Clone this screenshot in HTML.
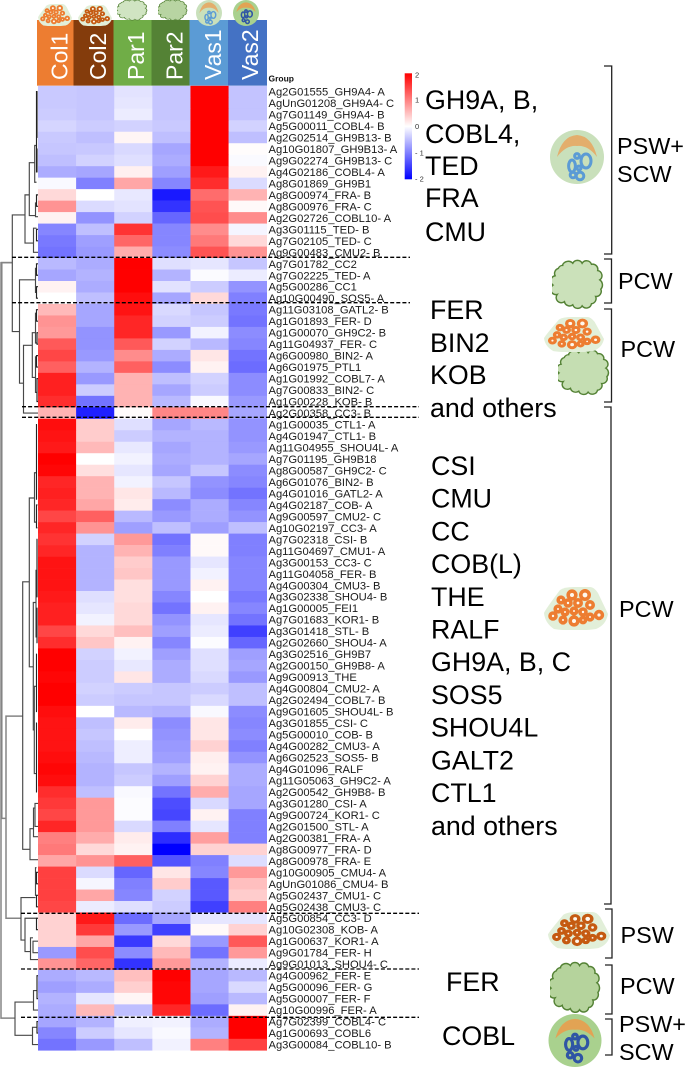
<!DOCTYPE html>
<html lang="en">
<head>
<meta charset="utf-8">
<title>Cell wall gene expression heatmap</title>
<style>
html,body{margin:0;padding:0;background:#fff;width:685px;height:1067px;overflow:hidden}
svg{display:block}
text{font-family:"Liberation Sans",Arial,sans-serif}
.big{font-size:26.8px;fill:#000}
.wall{font-size:23.4px;fill:#000}
.hdr{font-size:23px;fill:#fff}
</style>
</head>
<body>
<svg id="chart" xmlns="http://www.w3.org/2000/svg" width="685" height="1067" viewBox="0 0 685 1067">
<defs>
<linearGradient id="cbGrad" x1="0" y1="0" x2="0" y2="1">
<stop offset="0" stop-color="#ff0000"/><stop offset="0.5" stop-color="#ffffff"/><stop offset="1" stop-color="#0000ff"/>
</linearGradient>
<symbol id="dome" viewBox="0 0 64 43" preserveAspectRatio="none">
<path d="M0 26 Q1 23 16 3 Q20 0 30 0 L46 0 Q50 0 54 6 L64 27 Q62 38 52 42 Q30 45 10 42 Q1 36 0 26Z" fill="#e2efd9"/>
<g fill="#fff8ee" stroke="currentColor" stroke-width="3.6">
<circle cx="28" cy="8" r="3.8"/><circle cx="41" cy="8" r="4.2"/><circle cx="17" cy="13" r="2.8"/>
<circle cx="24" cy="16" r="3"/><circle cx="34" cy="16" r="3.2"/><circle cx="46" cy="18" r="3.2"/>
<circle cx="14" cy="22" r="2.8"/><circle cx="21" cy="25" r="2.8"/><circle cx="30" cy="24" r="2.8"/>
<circle cx="39" cy="25" r="3"/><circle cx="9" cy="29" r="3"/><circle cx="55" cy="28" r="3.4"/>
<circle cx="19" cy="33" r="2.8"/><circle cx="30" cy="34" r="3.8"/><circle cx="46" cy="30" r="2.8"/>
<circle cx="39" cy="33" r="2.6"/>
</g>
</symbol>
<symbol id="cloud" viewBox="0 -3 52 52" preserveAspectRatio="none">
<path d="M10 6 a6 6 0 0 1 10 -2 a5 5 0 0 1 9 0 a5 5 0 0 1 9 1 a5 5 0 0 1 6 6 a5 5 0 0 1 2 9 a6 6 0 0 1 1 9 a5 5 0 0 1 -5 7 a5 5 0 0 1 -4 7 a5 5 0 0 1 -9 2 a5 5 0 0 1 -9 -1 a5 5 0 0 1 -8 -3 a5 5 0 0 1 -7 -7 a5 5 0 0 1 -4 -9 a5 5 0 0 1 2 -9 a5 5 0 0 1 3 -7 a5 5 0 0 1 5 -3 z" fill="currentColor" stroke="#548235" stroke-width="1.4"/>
</symbol>
<symbol id="vasLight" viewBox="0 0 54 54">
<circle cx="27" cy="27" r="27" fill="#c9e0bb"/>
<path d="M7 27 Q12 6 27 5 Q42 6 47 27 Q38 15 27 16 Q16 15 7 27Z" fill="#e3ae6c"/>
<g fill="none" stroke="#5b9bd5" stroke-width="3">
<ellipse cx="22" cy="36" rx="3.4" ry="6"/><ellipse cx="36" cy="31" rx="5" ry="7"/><circle cx="27" cy="26" r="2.4"/>
<circle cx="23" cy="45" r="2.8"/><circle cx="30" cy="46" r="3.8"/><circle cx="29" cy="38" r="2"/>
</g>
</symbol>
<symbol id="vasDark" viewBox="0 0 54 54">
<circle cx="27" cy="27" r="27" fill="#a9d18e"/>
<path d="M7 25 Q12 6 27 5 Q42 6 47 25 Q38 15 27 16 Q16 15 7 25Z" fill="#e2a354"/>
<g fill="none" stroke="#2f55a5" stroke-width="3.2">
<ellipse cx="21" cy="31" rx="3.6" ry="6"/><ellipse cx="35" cy="29" rx="5" ry="6.5"/><circle cx="27" cy="23" r="2.4"/>
<circle cx="22" cy="42" r="2.8"/><circle cx="30" cy="45" r="3.8"/><circle cx="28" cy="35" r="2"/>
</g>
</symbol>
</defs>

<g>
<rect x="37" y="20" width="36.5" height="65.7" fill="#ed7d31"/>
<rect x="73.5" y="20" width="40" height="65.7" fill="#843c0c"/>
<rect x="113.5" y="20" width="38" height="65.7" fill="#70ad47"/>
<rect x="151.5" y="20" width="38" height="65.7" fill="#548235"/>
<rect x="189.5" y="20" width="38.5" height="65.7" fill="#5b9bd5"/>
<rect x="228" y="20" width="39" height="65.7" fill="#4472c4"/>
<text class="hdr" transform="translate(67.5,80) rotate(-90)">Col1</text>
<text class="hdr" transform="translate(106,80) rotate(-90)">Col2</text>
<text class="hdr" transform="translate(144,80) rotate(-90)">Par1</text>
<text class="hdr" transform="translate(182.5,80) rotate(-90)">Par2</text>
<text class="hdr" transform="translate(221,80) rotate(-90)">Vas1</text>
<text class="hdr" transform="translate(258,80) rotate(-90)">Vas2</text>
</g>

<g>
<use href="#dome" x="38" y="4" width="34" height="22" style="color:#ed7d31"/>
<use href="#dome" x="78" y="5" width="34" height="21" style="color:#c55a11"/>
<use href="#cloud" x="117" y="-2" width="32" height="23" style="color:#d0e4c2"/>
<use href="#cloud" x="158" y="-2" width="31" height="23" style="color:#b8d4a2"/>
<use href="#vasLight" x="196" y="0" width="26" height="26"/>
<use href="#vasDark" x="233" y="0" width="26" height="26"/>
</g>

<text x="268.5" y="81.7" font-size="8.5" font-weight="700" fill="#111">Group</text>

<g id="dendrogram"></g>
<g id="cells"></g>
<g id="genes"></g>

<g id="colorbar">
<rect x="404.7" y="73.3" width="7.3" height="106" fill="url(#cbGrad)"/>
</g>

<g>
<text class="big" x="425" y="109">GH9A, B,</text>
<text class="big" x="425" y="143">COBL4,</text>
<text class="big" x="425" y="175">TED</text>
<text class="big" x="425" y="207">FRA</text>
<text class="big" x="425" y="241">CMU</text>
<text class="big" x="430" y="319">FER</text>
<text class="big" x="430" y="352">BIN2</text>
<text class="big" x="430" y="384">KOB</text>
<text class="big" x="430" y="417">and others</text>
<text class="big" x="431" y="475">CSI</text>
<text class="big" x="431" y="507.7">CMU</text>
<text class="big" x="431" y="540.4">CC</text>
<text class="big" x="431" y="573.1">COB(L)</text>
<text class="big" x="431" y="605.8">THE</text>
<text class="big" x="431" y="638.5">RALF</text>
<text class="big" x="431" y="671.2">GH9A, B, C</text>
<text class="big" x="431" y="703.9">SOS5</text>
<text class="big" x="431" y="736.6">SHOU4L</text>
<text class="big" x="431" y="769.3">GALT2</text>
<text class="big" x="431" y="802">CTL1</text>
<text class="big" x="431" y="835">and others</text>
<text class="big" x="446" y="991">FER</text>
<text class="big" x="442" y="1045">COBL</text>
</g>

<g>
<use href="#vasLight" x="550" y="130" width="54" height="54"/>
<use href="#cloud" x="552" y="256" width="54" height="54" style="color:#cbe1ba"/>
<use href="#cloud" x="558" y="346" width="54" height="50" style="color:#c5deb2"/>
<use href="#dome" x="544" y="317" width="60" height="35" style="color:#ed7d31"/>
<use href="#dome" x="544" y="587" width="64" height="43" style="color:#ed7d31"/>
<use href="#dome" x="548" y="912" width="62" height="37" style="color:#c55a11"/>
<use href="#cloud" x="550" y="958" width="53" height="56" style="color:#b5d39c"/>
<use href="#vasDark" x="548" y="1014" width="54" height="53"/>
</g>

<g fill="none" stroke="#222" stroke-width="1.3">
<path d="M604 66H611.7V254H604"/>
<path d="M604 259H611.5V303H604"/>
<path d="M604 309H611.5V402H604"/>
<path d="M604 407H611V904H604"/>
<path d="M605 909H612V958H605"/>
<path d="M605 965H612V1014H605"/>
<path d="M605 1019H612V1055H605"/>
</g>

<g>
<text class="wall" x="617" y="154">PSW+</text>
<text class="wall" x="617" y="182">SCW</text>
<text class="wall" x="618" y="289">PCW</text>
<text class="wall" x="620.5" y="357">PCW</text>
<text class="wall" x="619" y="617">PCW</text>
<text class="wall" x="620.5" y="943">PSW</text>
<text class="wall" x="620" y="994">PCW</text>
<text class="wall" x="619" y="1032">PSW+</text>
<text class="wall" x="619" y="1060">SCW</text>
</g>

<g stroke="#000" stroke-width="1.3" stroke-dasharray="4 2.1">
<line x1="12" x2="410" y1="257.3" y2="257.3"/>
<line x1="12" x2="410" y1="302.7" y2="302.7"/>
<line x1="22" x2="419" y1="406.7" y2="406.7"/>
<line x1="22" x2="419" y1="417.3" y2="417.3"/>
<line x1="21" x2="419" y1="913.3" y2="913.3"/>
<line x1="21" x2="419" y1="969" y2="969"/>
<line x1="21" x2="419" y1="1017.3" y2="1017.3"/>
</g>
</svg>

<script>
const samples = ["Col1","Col2","Par1","Par2","Vas1","Vas2"];
const geneLabels = [
"Ag2G01555_GH9A4- A","AgUnG01208_GH9A4- C","Ag7G01149_GH9A4- B","Ag5G00011_COBL4- B","Ag2G02514_GH9B13- B","Ag10G01807_GH9B13- A","Ag9G02274_GH9B13- C","Ag4G02186_COBL4- A","Ag8G01869_GH9B1","Ag8G00974_FRA- B","Ag8G00976_FRA- C","Ag2G02726_COBL10- A","Ag3G01115_TED- B","Ag7G02105_TED- C","Ag9G00483_CMU2- B",
"Ag7G01782_CC2","Ag7G02225_TED- A","Ag5G00286_CC1","Ag10G00490_SOS5- A",
"Ag11G03108_GATL2- B","Ag1G01893_FER- D","Ag1G00070_GH9C2- B","Ag11G04937_FER- C","Ag6G00980_BIN2- A","Ag6G01975_PTL1","Ag1G01992_COBL7- A","Ag7G00833_BIN2- C","Ag1G00228_KOB- B",
"Ag2G00358_CC3- B",
"Ag1G00035_CTL1- A","Ag4G01947_CTL1- B","Ag11G04955_SHOU4L- A","Ag7G01195_GH9B18","Ag8G00587_GH9C2- C","Ag6G01076_BIN2- B","Ag4G01016_GATL2- A","Ag4G02187_COB- A","Ag9G00597_CMU2- C","Ag10G02197_CC3- A","Ag7G02318_CSI- B","Ag11G04697_CMU1- A","Ag3G00153_CC3- C","Ag11G04058_FER- B","Ag4G00304_CMU3- B","Ag3G02338_SHOU4- B","Ag1G00005_FEI1","Ag7G01683_KOR1- B","Ag3G01418_STL- B","Ag2G02660_SHOU4- A","Ag3G02516_GH9B7","Ag2G00150_GH9B8- A","Ag9G00913_THE","Ag4G00804_CMU2- A","Ag2G02494_COBL7- B","Ag9G01605_SHOU4L- B","Ag3G01855_CSI- C","Ag5G00010_COB- B","Ag4G00282_CMU3- A","Ag6G02523_SOS5- B","Ag4G01096_RALF","Ag11G05063_GH9C2- A","Ag2G00542_GH9B8- B","Ag3G01280_CSI- A","Ag9G00724_KOR1- C","Ag2G01500_STL- A","Ag2G00381_FRA- A","Ag8G00977_FRA- D","Ag8G00978_FRA- E","Ag10G00905_CMU4- A","AgUnG01086_CMU4- B","Ag5G02437_CMU1- C","Ag5G02438_CMU3- C",
"Ag5G00854_CC3- D","Ag10G02308_KOB- A","Ag1G00637_KOR1- A","Ag9G01784_FER- H","Ag9G01013_SHOU4- C",
"Ag4G00962_FER- E","Ag5G00096_FER- G","Ag5G00007_FER- F","Ag10G00996_FER- A",
"Ag7G02399_COBL4- C","Ag1G00693_COBL6","Ag3G00084_COBL10- B"];
const zValues = [
[-.42,-.45,-.22,-.45,2,-.47],[-.42,-.45,-.2,-.45,2,-.47],[-.4,-.45,-.15,-.45,2,-.47],[-.33,-.4,-.35,-.42,2,-.35],[-.42,-.5,.08,-.5,2,-.5],
[-.45,-.43,-.3,-.7,2,.02],[-.5,-.35,-.25,-.65,2,-.04],[-.65,-.7,.12,-.75,1.8,.1],[-.05,-1,.7,-.95,1.65,-.28],[.3,0,-.18,-1.8,1.15,.6],
[.85,-.28,-.22,-1.6,1.35,.05],[.1,-.85,-.35,-1.2,1.4,.9],[-.95,-.5,1.6,-.95,.9,-.08],[-1.05,-.75,1.2,-.95,1.05,.3],[-1.1,-.8,.65,-.9,1.35,.85],
[-.55,-.65,2,-.25,-.2,-.45],[-.7,-.6,2,-.6,-.03,-.15],[.1,-.65,2,-.23,-.4,-.85],[0,-.5,1.9,-.7,.3,-1],
[.55,-.7,1.85,-.3,-.45,-1.05],[.85,-.7,1.7,-.35,-.4,-1.1],[.8,-.85,1.7,-.8,-.1,-.9],[1.3,-.85,1.3,-.35,-.55,-.95],[1.45,-.8,.9,-.65,.2,-1.1],[1.25,-.6,1.25,-.9,.1,-1.15],[1.75,-.8,.6,-.5,-.35,-.9],[1.75,-.4,.6,-.7,-.4,-.9],[1.65,-1.1,.6,-.55,-.05,-.8],
[.6,-1.75,.03,.95,.95,-.7],
[1.9,.4,-.25,-.7,-.55,-.85],[1.85,.4,-.4,-.6,-.6,-.85],[1.8,.55,-.18,-.7,-.6,-.8],[2,0,-.1,-.65,-.6,-.7],[1.95,.25,-.2,-.7,-.45,-.9],[1.7,.6,-.1,-.45,-.85,-.95],[1.75,.6,.2,-.55,-.9,-1.1],[1.7,.7,.15,-.9,-.65,-.95],[1.45,1.25,-.55,-.8,-.65,-.85],[1.7,.85,-.75,-.5,-.75,-.5],
[1.6,-.35,.8,-1.1,.05,-1],[1.7,-.6,.6,-1,.05,-1],[1.85,-.6,.4,-.8,-.2,-.95],[1.85,-.6,.45,-.8,-.1,-.95],[1.85,-.6,.25,-.8,.1,-.95],[1.8,-.25,.25,-.95,0,-1.05],[1.75,-.2,.3,-1.1,.1,-.95],[1.75,-.1,.3,-.85,-.2,-1.1],[1.45,.3,.5,-.75,-.15,-1.5],[1.65,.45,.1,-.95,-.02,-1.2],
[2,-.35,-.1,-.75,-.25,-.75],[2,-.4,-.18,-.65,-.25,-.7],[1.95,-.4,.2,-.65,-.3,-.8],[2,-.35,-.4,-.45,-.4,-.5],[2,-.4,-.45,-.45,-.3,-.5],[1.9,0,-.55,-.6,-.05,-.9],[1.85,-.5,.15,-.9,.2,-.95],[1.85,-.45,0,-.85,.2,-.9],[1.85,-.5,-.13,-.8,.35,-1],[1.9,-.55,-.13,-.75,.13,-.85],[1.95,-.6,-.45,-.6,.1,-.65],[1.9,-.6,-.4,-.75,.35,-.65],[1.65,-.5,-.05,-1.1,.65,-.7],
[1.55,.8,-.02,-1.4,-.3,-.7],[1.45,.8,-.02,-1.45,.1,-1],[1.7,.8,-.3,-1,-.2,-1],[1,.65,.15,-1.65,.75,-1],[1.05,.3,.1,-2,.35,.35],[.7,.85,1.25,-1.35,-1,-.27],
[1.5,-.28,-1.2,.2,-.95,.8],[1.5,-.07,-1,.4,-1.3,.5],[1.5,.7,-.95,-.35,-1.3,.4],[1.45,-.15,-.25,-.4,-1.5,1],
[.35,1.8,-1.15,-.7,-.2,-.2],[.35,1.55,-.8,-1.5,.05,.35],[.35,.7,-1.55,.3,-.8,1.3],[-.8,1.4,-.9,.55,-1.1,.8],[.85,1.2,-1.6,.8,-.6,-.15],
[-.65,-.55,.5,2,-.7,-.55],[-.75,-.65,.38,1.95,-.7,-.3],[-.6,-.2,.08,1.95,-.75,-.55],[-.65,.55,-.5,1.7,-1.15,.1],
[-.7,-.6,-.12,-.1,-.65,2],[-.95,-.4,-.2,-.05,-.6,2],[-1.1,-.8,-.5,-.1,1,1.5]];
const colorbarTicks = [2,1,0,-1,-2];
/* dendrogram merges: [merge height, top branch row, bottom branch row, top child height, bottom child height] */
const dendroMerges = [
[37,15.4,81.2,25.7,23],[36.2,15.4,63.8,25.7,32],[25.7,11.25,21.4,13,18.5],[13,9.5,13.7,8.7,4.5],[8.7,6.7,11.3,3.3,2.5],[3.3,5.2,8.4,1.5,1.5],
[1.5,.5,7.5,1,1],[1,.5,4.5,.5,.5],[1,5.5,7.5,.5,.5],[2.5,10.2,11.4,1.5,0],[1.5,9.5,10.5,0,0],[4.5,12.4,14.5,1.5,0],[1.5,12.5,13.5,0,0],
[18.5,16.9,25.9,2.5,14.5],[2.5,15.9,18,1.5,1.5],[1.5,15.5,16.5,0,0],[1.5,17.5,18.5,0,0],[14.5,22.6,28.5,5.7,0],[5.7,21.5,25.4,2.5,2.5],[2.5,19.8,22.4,1.5,1.5],[1.5,19.5,20.5,0,0],[1,21.5,22.5,0,0],[2.5,23.6,26.7,1.5,1],[1.5,23.5,24.5,0,0],[1,25.5,27.5,0,0],
[32,54.9,72.5,15.3,17],[15.3,43.2,66.5,8.7,8],[8.7,35.9,50.6,3.5,4.7],[3.5,33.7,38,1.5,1.5],[1.5,29.5,36,1,1],[1.5,36.5,38.5,.5,.5],[4.7,45,56.1,2,3.7],[2,42.2,48,1,1],[1,39.5,44.5,.5,.5],[1,45.5,48.5,.5,.5],[3.7,52.3,59.9,1.5,1.5],[1.5,49.5,54.5,1,1],[1.5,55.5,61.5,1,1],
[8,64.7,67.4,4.5,0],[4.5,62.9,65.4,3,0],[3,62.5,64.5,0,0],
[17,70.7,74.4,2.5,13],[2.5,68.1,70.5,1.5,1.5],[1.5,68.5,69.5,0,0],[1.5,70.5,71.5,0,0],[13,72.5,75.4,1.5,7.5],[1.5,72.5,73.5,0,0],[7.5,74.2,76.1,5,0],[5,74.5,75.5,0,0],
[23,79.8,82.7,4.5,5.5],[4.5,78.8,80.5,1,0],[1,77.5,79.5,0,0],[5.5,82,83.5,1,0],[1,81.5,82.5,0,0]];

const NS = "http://www.w3.org/2000/svg";
const plotLeft = 38, plotRight = 266.7, plotTop = 85.8, rowH = 11.482;
const colW = (plotRight - plotLeft) / samples.length;
const xScale = c => plotLeft + c * colW;
const yScale = r => plotTop + r * rowH;
const heightScale = h => plotLeft - h;
const cbScale = v => 73.3 + (2 - v) / 4 * 106;
function zColor(v) {
  const t = Math.min(1, Math.abs(v) / 2);
  const k = Math.round(255 * (1 - t));
  return v >= 0 ? "rgb(255," + k + "," + k + ")" : "rgb(" + k + "," + k + ",255)";
}
const cellsG = document.getElementById("cells");
const genesG = document.getElementById("genes");
zValues.forEach(function (row, r) {
  row.forEach(function (v, c) {
    const rect = document.createElementNS(NS, "rect");
    rect.setAttribute("x", xScale(c));
    rect.setAttribute("y", yScale(r));
    rect.setAttribute("width", colW + 0.3);
    rect.setAttribute("height", rowH + 0.3);
    rect.setAttribute("fill", zColor(v));
    
    
    cellsG.appendChild(rect);
  });
  const label = document.createElementNS(NS, "text");
  label.setAttribute("x", 268.5);
  label.setAttribute("y", yScale(r) + rowH / 2 + 4);
  label.setAttribute("font-size", "11.2");
  label.setAttribute("fill", "#1a1a1a");
  label.textContent = geneLabels[r];
  
  
  genesG.appendChild(label);
});
const dendroG = document.getElementById("dendrogram");
dendroMerges.forEach(function (m) {
  const x = heightScale(m[0]), y1 = yScale(m[1]), y2 = yScale(m[2]);
  const p = document.createElementNS(NS, "path");
  p.setAttribute("d", "M" + heightScale(m[3]) + " " + y1 + "H" + x + "V" + y2 + "H" + heightScale(m[4]));
  p.setAttribute("fill", "none");
  p.setAttribute("stroke", m[0] > 30 ? "#858585" : (m[0] < 2 ? "#222" : "#484848"));
  p.setAttribute("stroke-width", m[0] > 30 ? "1.5" : "1.15");
  
  
  dendroG.appendChild(p);
});
const colorbarG = document.getElementById("colorbar");
colorbarTicks.forEach(function (t) {
  const tx = document.createElementNS(NS, "text");
  tx.setAttribute("x", 415);
  tx.setAttribute("y", cbScale(t) + 2.6 + (t === 2 ? 1.5 : 0) + (t === -2 ? -0.5 : 0));
  tx.setAttribute("font-size", "7.5");
  tx.setAttribute("fill", "#333");
  tx.textContent = t < 0 ? "- " + Math.abs(t) : String(t);
  
  
  colorbarG.appendChild(tx);
});
</script>
</body>
</html>
